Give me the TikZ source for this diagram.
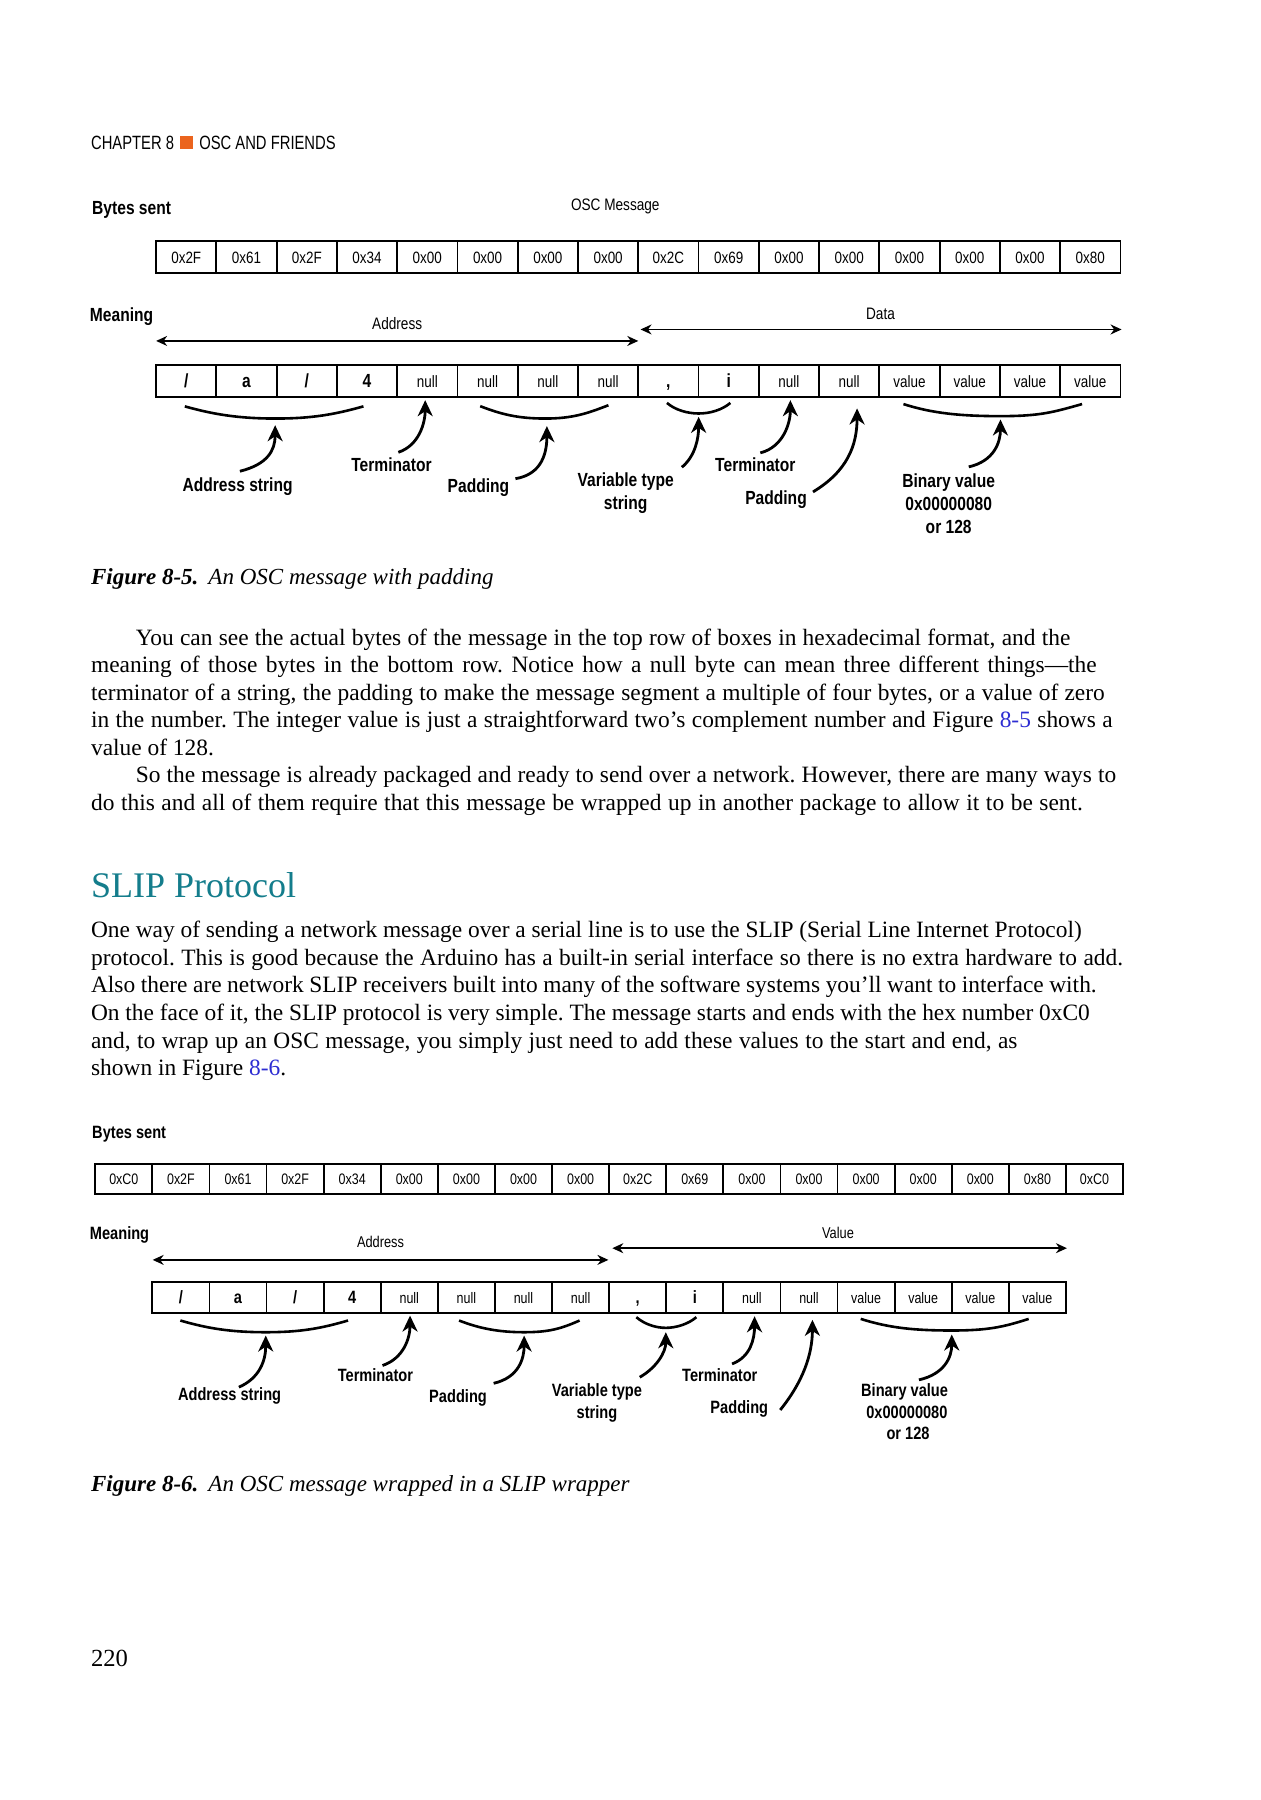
\documentclass[tikz,border=0pt]{standalone}
\usepackage{fontspec}
\setmainfont{Liberation Serif}
\newfontfamily\cond[FakeStretch=0.82]{Liberation Sans}
\newfontfamily\hcond[FakeStretch=0.77]{Liberation Sans}
\usetikzlibrary{arrows.meta}
\definecolor{slipcol}{RGB}{20,125,140}
\definecolor{chapcol}{RGB}{235,100,30}
\definecolor{linkcol}{RGB}{45,45,210}
\newcommand{\bodyline}[2]{\makebox[#1\dimexpr0.57375pt\relax][s]{#2}}
\frenchspacing
\begin{document}
\begin{tikzpicture}[x=0.57375pt,y=-0.57375pt,
  hdr/.style={font=\hcond\fontsize{9.6}{11}\selectfont, inner sep=0pt, text height=6.9pt, text depth=0pt},
  blbl/.style={font=\cond\bfseries\fontsize{9.5}{11}\selectfont, inner sep=0pt, text height=6.8pt, text depth=0pt},
  blbltwo/.style={font=\cond\bfseries\fontsize{8.9}{10}\selectfont, inner sep=0pt, text height=6.4pt, text depth=0pt},
  rlbl/.style={font=\cond\fontsize{8.3}{10}\selectfont, inner sep=0pt, text height=6pt, text depth=0pt},
  rlbltwo/.style={font=\cond\fontsize{7.8}{9}\selectfont, inner sep=0pt, text height=5.6pt, text depth=0pt},
  cellA/.style={draw, line width=0.9pt, minimum width=30.12pt, minimum height=16.07pt, inner sep=0pt, font=\cond\fontsize{8.2}{9}\selectfont, text height=5.9pt, text depth=0pt},
  cellB/.style={draw, line width=0.9pt, minimum width=28.54pt, minimum height=15.2pt, inner sep=0pt, font=\cond\fontsize{7.6}{9}\selectfont, text height=5.5pt, text depth=0pt},
  bcharA/.style={font=\cond\bfseries\fontsize{9.5}{11}\selectfont, text height=6.6pt},
  bcharB/.style={font=\cond\bfseries\fontsize{8.9}{10}\selectfont, text height=6.2pt},
  span/.style={line width=0.7pt, {Stealth[length=5.5pt,width=5pt]}-{Stealth[length=5.5pt,width=5pt]}},
  pointer/.style={line width=1.4pt, -{Stealth[length=8pt,width=7.5pt,inset=2.5pt]}},
  brace/.style={line width=1.3pt},
  body/.style={font=\fontsize{11.7}{13}\selectfont, inner sep=0pt, anchor=base west},
  capt/.style={font=\fontsize{11.5}{14}\selectfont, inner sep=0pt, anchor=base west},
]
\path[use as bounding box, fill=white] (0,0) rectangle (1098,1568);

% ---------- header ----------
\node[hdr, anchor=west] (chap) at (79,124) {CHAPTER 8\hspace{3pt}\textcolor{chapcol}{\rule{6.4pt}{6.4pt}}\hspace{3.2pt}OSC AND FRIENDS};

% ---------- Figure 8-5 ----------
\node[blbl, anchor=west] (bs1) at (80,181) {Bytes sent};
\node[rlbl] (osc1) at (536,178) {OSC Message};
\foreach \t [count=\i] in {0x2F,0x61,0x2F,0x34,0x00,0x00,0x00,0x00,0x2C,0x69,0x00,0x00,0x00,0x00,0x00,0x80}
  \node[cellA] (ta\i) at ({136+52.5*(\i-0.5)},224) {\t};
\node[blbl, anchor=west] (mn1) at (78,274) {Meaning};

\node[cellA,bcharA] (ba1) at ({136+52.5*0.5},332) {/};
\node[cellA,bcharA] (ba2) at ({136+52.5*1.5},332) {a};
\node[cellA,bcharA] (ba3) at ({136+52.5*2.5},332) {/};
\node[cellA,bcharA] (ba4) at ({136+52.5*3.5},332) {4};
\node[cellA] (ba5) at ({136+52.5*4.5},332) {null};
\node[cellA] (ba6) at ({136+52.5*5.5},332) {null};
\node[cellA] (ba7) at ({136+52.5*6.5},332) {null};
\node[cellA] (ba8) at ({136+52.5*7.5},332) {null};
\node[cellA,bcharA] (ba9) at ({136+52.5*8.5},332) {,};
\node[cellA,bcharA] (ba10) at ({136+52.5*9.5},332) {i};
\node[cellA] (ba11) at ({136+52.5*10.5},332) {null};
\node[cellA] (ba12) at ({136+52.5*11.5},332) {null};
\node[cellA] (ba13) at ({136+52.5*12.5},332) {value};
\node[cellA] (ba14) at ({136+52.5*13.5},332) {value};
\node[cellA] (ba15) at ({136+52.5*14.5},332) {value};
\node[cellA] (ba16) at ({136+52.5*15.5},332) {value};

\node[rlbl] (adr1) at (346,282) {Address};
\coordinate (adr1L) at (136,297);
\coordinate (adr1R) at (556,297);
\draw[span] (adr1L) -- (adr1R);
\node[rlbl] (dat1) at (767,273) {Data};
\coordinate (dat1L) at (558,287);
\coordinate (dat1R) at (977,287);
\draw[span] (dat1L) -- (dat1R);

% braces fig 1
\draw[brace] (161,354) .. controls +(25,7) and +(-32,0) .. (240,364.6) .. controls +(32,0) and +(-25,7) .. (316.6,354);
\draw[brace] (418.3,353.8) .. controls +(18,7) and +(-24,0) .. (475,364.6) .. controls +(24,0) and +(-18,7) .. (530,353);
\draw[brace] (581,351) .. controls +(7,6) and +(-10,0) .. (608.6,360.2) .. controls +(10,0) and +(-7,6) .. (636.2,351);
\draw[brace] (787,352) .. controls +(25,8) and +(-35,0) .. (871.5,362.5) .. controls +(35,0) and +(-25,7) .. (942.6,352);

% labels fig 1
\node[blbl] (as1) at (207,422) {Address string};
\node[blbl] (te1) at (341,404.4) {Terminator};
\node[blbl] (pa1) at (416.8,423.5) {Padding};
\node[blbl] (vt1) at (545,418) {Variable type};
\node[blbl] (vs1) at (545,438) {string};
\node[blbl] (tf1) at (658,404.4) {Terminator};
\node[blbl] (pb1) at (676,433.7) {Padding};
\node[blbl] (bv1) at (826.4,419) {Binary value};
\node[blbl] (bh1) at (826.4,438.6) {0x00000080};
\node[blbl] (bo1) at (826.4,458.4) {or 128};

% pointers fig 1
\coordinate (as1s) at (209,410.5);   \coordinate (as1t) at (239.7,370.4);
\coordinate (te1s) at (347,394);     \coordinate (te1t) at (370.4,348.6);
\coordinate (pa1s) at (449,417);     \coordinate (pa1t) at (476.4,371.2);
\coordinate (vt1s) at (594,407);     \coordinate (vt1t) at (608.6,363.1);
\coordinate (tf1s) at (662.3,394.5); \coordinate (tf1t) at (688.5,348.6);
\coordinate (pb1s) at (708.2,428.5); \coordinate (pb1t) at (746.6,355.8);
\coordinate (bv1s) at (843.9,406.7); \coordinate (bv1t) at (871.5,365.4);
\draw[pointer] (as1s) .. controls +(24,-6) and +(0,22) .. (as1t);
\draw[pointer] (te1s) .. controls +(18,-6) and +(0,20) .. (te1t);
\draw[pointer] (pa1s) .. controls +(24,-4) and +(0,22) .. (pa1t);
\draw[pointer] (vt1s) .. controls +(12,-10) and +(0,18) .. (vt1t);
\draw[pointer] (tf1s) .. controls +(20,-5) and +(0,20) .. (tf1t);
\draw[pointer] (pb1s) .. controls +(30,-18) and +(0,32) .. (pb1t);
\draw[pointer] (bv1s) .. controls +(22,-5) and +(0,20) .. (bv1t);

\node[capt] (cap1) at (79,509) {\textbf{\textit{Figure 8-5.}}\hspace{5pt}\textit{An OSC message with padding}};

% ---------- body text ----------
\node[body] (p1a) at (118,562) {\bodyline{814}{You can see the actual bytes of the message in the top row of boxes in hexadecimal format, and the}};
\node[body] (p1b) at (79,586) {\bodyline{876}{meaning of those bytes in the bottom row. Notice how a null byte can mean three different things—the}};
\node[body] (p1c) at (79,610) {\bodyline{883}{terminator of a string, the padding to make the message segment a multiple of four bytes, or a value of zero}};
\node[body] (p1d) at (79,634) {\bodyline{890}{in the number. The integer value is just a straightforward two’s complement number and Figure \textcolor{linkcol}{8-5} shows a}};
\node[body] (p1e) at (79,658) {value of 128.};
\node[body] (p1f) at (118,682) {\bodyline{854}{So the message is already packaged and ready to send over a network. However, there are many ways to}};
\node[body] (p1g) at (79,706) {\bodyline{864}{do this and all of them require that this message be wrapped up in another package to allow it to be sent.}};

\node[anchor=base west, inner sep=0pt, font=\fontsize{18}{20}\selectfont, text=slipcol] (head) at (79,782) {SLIP Protocol};

\node[body] (p2a) at (79,817) {\bodyline{863}{One way of sending a network message over a serial line is to use the SLIP (Serial Line Internet Protocol)}};
\node[body] (p2b) at (79,841) {\bodyline{899}{protocol. This is good because the Arduino has a built-in serial interface so there is no extra hardware to add.}};
\node[body] (p2c) at (79,865) {\bodyline{876}{Also there are network SLIP receivers built into many of the software systems you’ll want to interface with.}};
\node[body] (p2d) at (79,889) {\bodyline{870}{On the face of it, the SLIP protocol is very simple. The message starts and ends with the hex number 0xC0}};
\node[body] (p2e) at (79,913) {\bodyline{807}{and, to wrap up an OSC message, you simply just need to add these values to the start and end, as}};
\node[body] (p2f) at (79,937) {shown in Figure \textcolor{linkcol}{8-6}.};

% ---------- Figure 8-6 ----------
\node[blbltwo, anchor=west] (bs2) at (80,986) {Bytes sent};
\foreach \t [count=\i] in {0xC0,0x2F,0x61,0x2F,0x34,0x00,0x00,0x00,0x00,0x2C,0x69,0x00,0x00,0x00,0x00,0x00,0x80,0xC0}
  \node[cellB] (tb\i) at ({83+49.74*(\i-0.5)},1027) {\t};
\node[blbltwo, anchor=west] (mn2) at (78,1074) {Meaning};

\node[cellB,bcharB] (bb1) at ({132.7+49.74*0.5},1130.3) {/};
\node[cellB,bcharB] (bb2) at ({132.7+49.74*1.5},1130.3) {a};
\node[cellB,bcharB] (bb3) at ({132.7+49.74*2.5},1130.3) {/};
\node[cellB,bcharB] (bb4) at ({132.7+49.74*3.5},1130.3) {4};
\node[cellB] (bb5) at ({132.7+49.74*4.5},1130.3) {null};
\node[cellB] (bb6) at ({132.7+49.74*5.5},1130.3) {null};
\node[cellB] (bb7) at ({132.7+49.74*6.5},1130.3) {null};
\node[cellB] (bb8) at ({132.7+49.74*7.5},1130.3) {null};
\node[cellB,bcharB] (bb9) at ({132.7+49.74*8.5},1130.3) {,};
\node[cellB,bcharB] (bb10) at ({132.7+49.74*9.5},1130.3) {i};
\node[cellB] (bb11) at ({132.7+49.74*10.5},1130.3) {null};
\node[cellB] (bb12) at ({132.7+49.74*11.5},1130.3) {null};
\node[cellB] (bb13) at ({132.7+49.74*12.5},1130.3) {value};
\node[cellB] (bb14) at ({132.7+49.74*13.5},1130.3) {value};
\node[cellB] (bb15) at ({132.7+49.74*14.5},1130.3) {value};
\node[cellB] (bb16) at ({132.7+49.74*15.5},1130.3) {value};

\node[rlbltwo] (adr2) at (331.5,1082) {Address};
\coordinate (adr2L) at (133,1097.5);
\coordinate (adr2R) at (530,1097.5);
\draw[span] (adr2L) -- (adr2R);
\node[rlbltwo] (val2) at (730,1074) {Value};
\coordinate (val2L) at (533.4,1087.3);
\coordinate (val2R) at (929.4,1087.3);
\draw[span] (val2L) -- (val2R);

% braces fig 2
\draw[brace] (157.1,1150.3) .. controls +(24,7) and +(-30,0) .. (231.5,1160.5) .. controls +(30,0) and +(-24,7) .. (303.2,1150.3);
\draw[brace] (399.9,1150.3) .. controls +(18,7) and +(-22,0) .. (456.6,1160.5) .. controls +(22,0) and +(-16,7) .. (504.9,1150.3);
\draw[brace] (554.3,1147.4) .. controls +(7,6) and +(-9,0) .. (580,1156.7) .. controls +(9,0) and +(-7,6) .. (606.6,1147.4);
\draw[brace] (749.8,1148.9) .. controls +(25,8) and +(-32,0) .. (829.1,1159) .. controls +(32,0) and +(-22,7) .. (896.1,1148.9);

% labels fig 2
\node[blbltwo] (as2) at (200,1214) {Address string};
\node[blbltwo] (te2) at (327,1198) {Terminator};
\node[blbltwo] (pa2) at (399,1216) {Padding};
\node[blbltwo] (vt2) at (520,1211) {Variable type};
\node[blbltwo] (vs2) at (520,1230) {string};
\node[blbltwo] (tf2) at (627,1198) {Terminator};
\node[blbltwo] (pb2) at (644,1226) {Padding};
\node[blbltwo] (bv2) at (788,1211) {Binary value};
\node[blbltwo] (bh2) at (790,1230) {0x00000080};
\node[blbltwo] (bo2) at (791,1248.5) {or 128};

% pointers fig 2
\coordinate (as2s) at (208.1,1208.4); \coordinate (as2t) at (231.5,1163.4);
\coordinate (te2s) at (333.2,1189.5); \coordinate (te2t) at (357.2,1146);
\coordinate (pa2s) at (430,1205);     \coordinate (pa2t) at (456.6,1163.4);
\coordinate (vt2s) at (557.3,1199.7); \coordinate (vt2t) at (580,1160.5);
\coordinate (tf2s) at (637.7,1188.1); \coordinate (tf2t) at (657.3,1146.6);
\coordinate (pb2s) at (679.7,1228.2); \coordinate (pb2t) at (707.7,1149.7);
\coordinate (bv2s) at (800.5,1202);   \coordinate (bv2t) at (829.1,1162.5);
\draw[pointer] (as2s) .. controls +(18,-8) and +(0,22) .. (as2t);
\draw[pointer] (te2s) .. controls +(18,-6) and +(0,20) .. (te2t);
\draw[pointer] (pa2s) .. controls +(22,-5) and +(0,20) .. (pa2t);
\draw[pointer] (vt2s) .. controls +(14,-8) and +(0,18) .. (vt2t);
\draw[pointer] (tf2s) .. controls +(16,-6) and +(0,20) .. (tf2t);
\draw[pointer] (pb2s) .. controls +(20,-25) and +(0,30) .. (pb2t);
\draw[pointer] (bv2s) .. controls +(22,-5) and +(0,20) .. (bv2t);

\node[capt] (cap2) at (79,1299) {\textbf{\textit{Figure 8-6.}}\hspace{5pt}\textit{An OSC message wrapped in a SLIP wrapper}};

\node[anchor=base west, inner sep=0pt, font=\fontsize{12.3}{14}\selectfont] (pgno) at (79,1451.5) {220};
\end{tikzpicture}
\end{document}
